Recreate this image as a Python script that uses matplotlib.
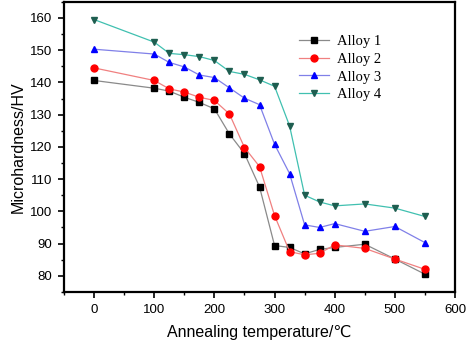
import matplotlib
matplotlib.use("Agg")
import matplotlib.pyplot as plt
from matplotlib.ticker import MultipleLocator

temps = [0, 100, 125, 150, 175, 200, 225, 250, 275, 300, 325, 350, 375, 400, 450, 500, 550]
alloy1 = [140.6, 138.2, 137.3, 135.4, 133.8, 131.8, 124.0, 117.9, 107.6, 89.4, 88.8, 86.8, 88.2, 88.8, 89.8, 85.2, 80.5]
alloy2 = [144.5, 140.6, 138.0, 137.0, 135.4, 134.4, 130.2, 119.8, 113.9, 98.7, 87.5, 86.5, 87.0, 89.6, 88.5, 85.2, 82.0]
alloy3 = [150.3, 148.8, 146.2, 144.8, 142.3, 141.5, 138.3, 135.1, 133.1, 120.8, 111.7, 95.8, 95.0, 96.2, 93.8, 95.3, 90.3]
alloy4 = [159.5, 152.5, 149.0, 148.6, 148.0, 146.8, 143.4, 142.5, 140.8, 138.8, 126.5, 105.0, 102.9, 101.7, 102.3, 101.0, 98.4]
labels = ["Alloy 1", "Alloy 2", "Alloy 3", "Alloy 4"]

sans = ["Liberation Sans", "DejaVu Sans"]
serif = ["Liberation Serif", "DejaVu Serif"]

fig = plt.figure(figsize=(4.74, 3.64), dpi=100)
ax = fig.add_axes([0.135, 0.198, 0.825, 0.797])

styles = [
    (alloy1, "s", "#000000", "#8a8a8a"),
    (alloy2, "o", "#ff0000", "#f08080"),
    (alloy3, "^", "#0000ff", "#8080e8"),
    (alloy4, "v", "#1e5e50", "#40c0b0"),
]
for (vals, m, mc, lc), lab in zip(styles, labels):
    ax.plot(temps, vals, color=lc, lw=0.9, marker=m, markersize=5,
            markerfacecolor=mc, markeredgecolor=mc, label=lab)

ax.set_xlim(-50, 600)
ax.set_ylim(75, 165)
ax.xaxis.set_major_locator(MultipleLocator(100))
ax.xaxis.set_minor_locator(MultipleLocator(50))
ax.yaxis.set_minor_locator(MultipleLocator(5))
ax.set_yticks(range(80, 161, 10))
ax.tick_params(which="major", direction="out", length=4.5, width=1.2, labelsize=9.5, pad=4)
ax.tick_params(which="minor", direction="out", length=2.5, width=1.0)
for lbl in ax.get_xticklabels() + ax.get_yticklabels():
    lbl.set_family(sans)
for s in ax.spines.values():
    s.set_linewidth(1.6)

ax.set_xlabel("Annealing temperature/℃", family=sans, fontsize=11.5, labelpad=7)
ax.set_ylabel("Microhardness/HV", family=sans, fontsize=11.5, labelpad=3)

leg = ax.legend(loc="upper left", bbox_to_anchor=(0.585, 0.905), frameon=False,
                prop={"family": serif, "size": 10.5}, handlelength=2.1,
                labelspacing=0.3, handletextpad=0.5, borderaxespad=0)

fig.savefig("out.png", dpi=100)
